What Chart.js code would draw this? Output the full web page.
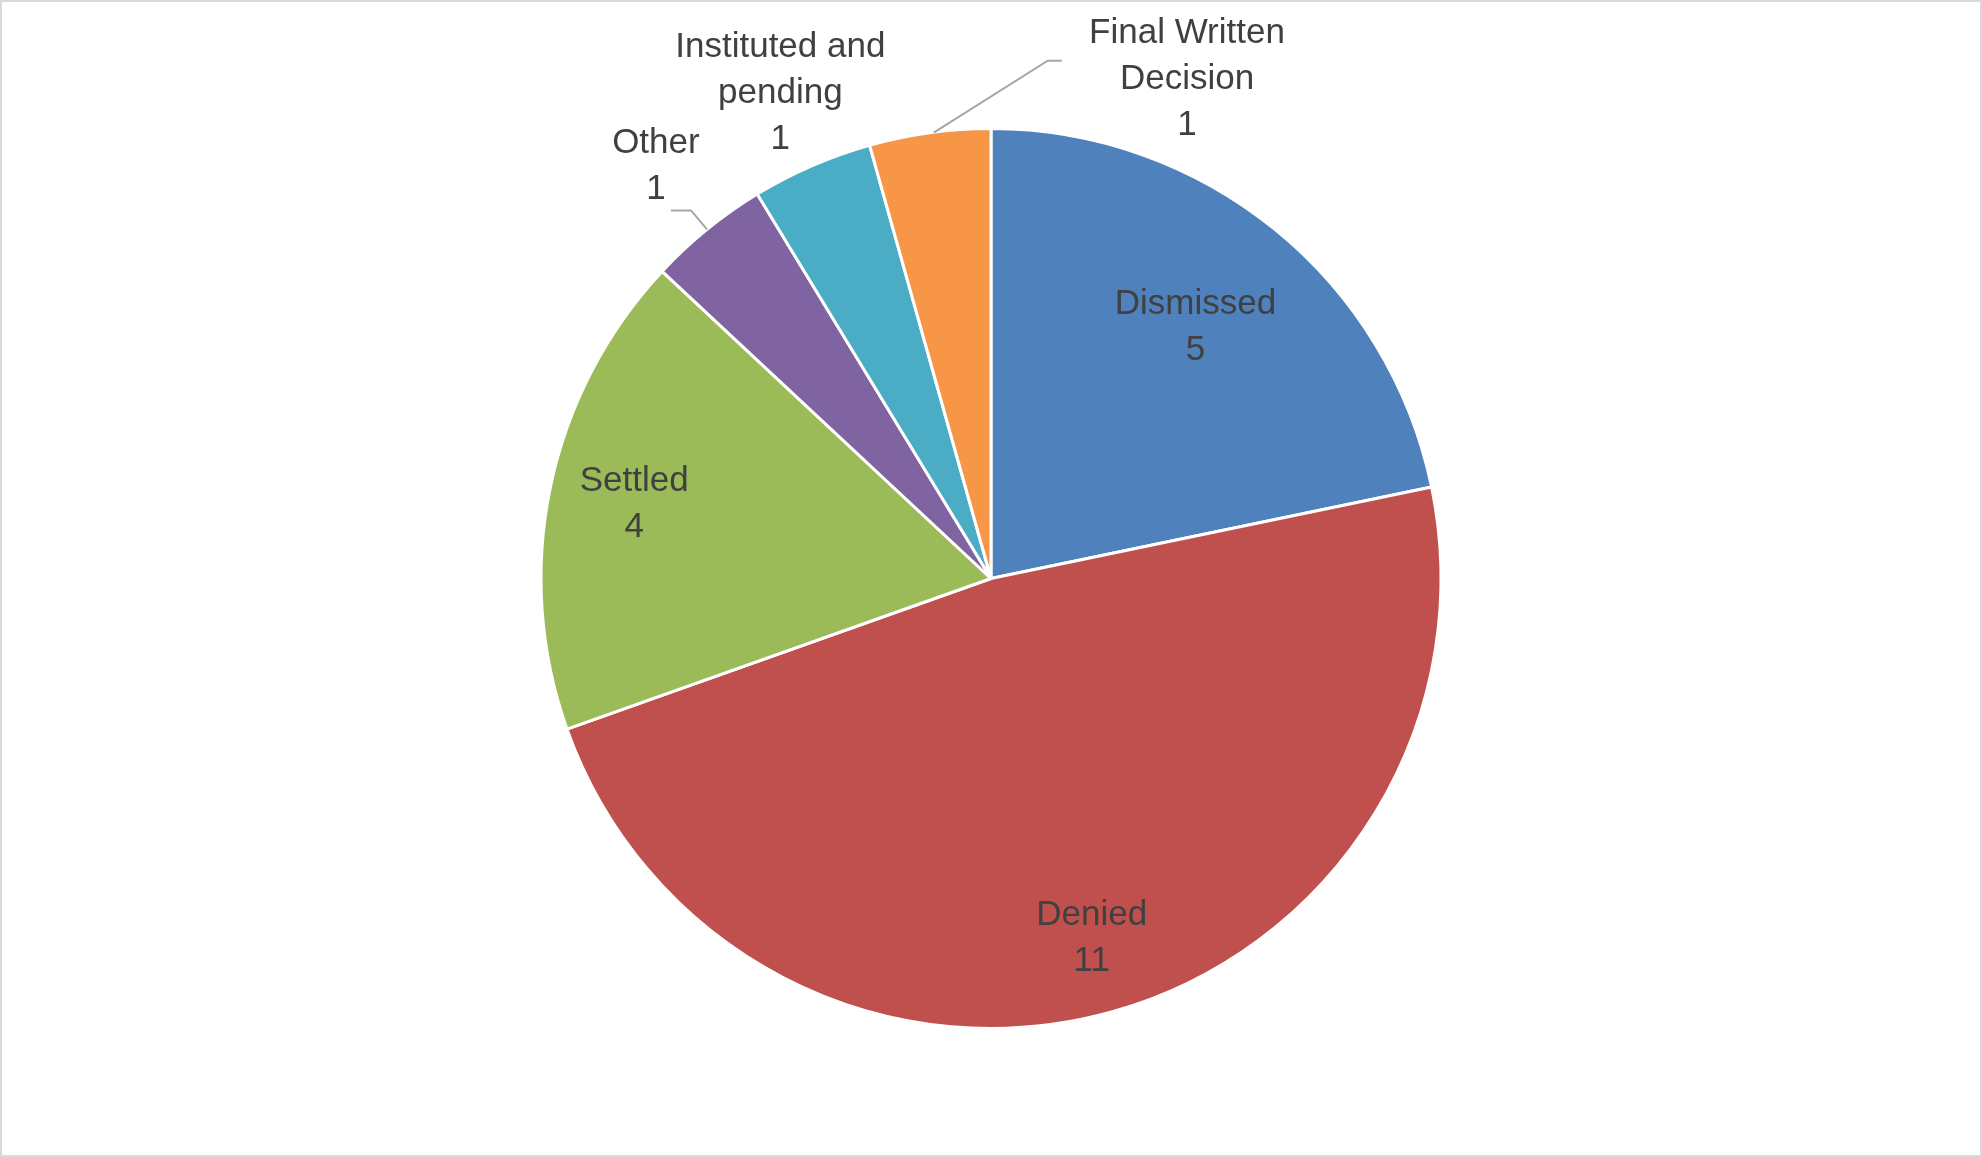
<!DOCTYPE html>
<html><head><meta charset="utf-8">
<script src="https://cdn.jsdelivr.net/npm/chart.js@4"></script>
<style>html,body{margin:0;padding:0;background:#fff;overflow:hidden}#w{width:1982px;height:1157px;position:relative}</style>
</head><body><div id="w"><canvas id="c"></canvas></div>
<script>
const categories = ["Dismissed","Denied","Settled","Other","Instituted and\npending","Final Written\nDecision"];
const values = [5,11,4,1,1,1];
const colors = ["#4F81BD","#C0504D","#9BBB59","#8064A2","#4BACC6","#F79646"];
// label placement style: radius factor, extra x offset, leader line
const labelStyle = [
  {r:0.72,dx:0},{r:0.83,dx:0},{r:0.81,dx:0},
  {r:1.18,dx:0,leader:true},{r:1.175,dx:0},{r:1.12,dx:400,leader:true}
];
const labelPlugin = {
  id:'labels',
  afterDraw(chart){
    const ctx=chart.ctx;
    ctx.save();
    ctx.strokeStyle='#d9d9d9';ctx.lineWidth=2;
    ctx.strokeRect(1,1,chart.width-2,chart.height-2);
    const meta=chart.getDatasetMeta(0);
    ctx.font='35px "Liberation Sans", Arial, sans-serif';
    ctx.fillStyle='#404040';ctx.textAlign='center';ctx.textBaseline='middle';
    meta.data.forEach((arc,i)=>{
      const p=arc.getProps(['x','y','startAngle','endAngle','outerRadius'],true);
      const a=(p.startAngle+p.endAngle)/2, st=labelStyle[i];
      let x=p.x+Math.cos(a)*p.outerRadius*st.r, y=p.y+Math.sin(a)*p.outerRadius*st.r;
      if(i===5){x=p.x+196;}
      const lines=(categories[i]+"\n"+values[i]).split("\n");
      const lh=46, y0=y-(lines.length-1)*lh/2;
      lines.forEach((t,k)=>ctx.fillText(t,x,y0+k*lh));
      if(st.leader){
        const ex=p.x+Math.cos(a)*p.outerRadius*1.0, ey=p.y+Math.sin(a)*p.outerRadius*1.0;
        ctx.strokeStyle='#a6a6a6';ctx.lineWidth=2;ctx.beginPath();
        if(i===3){ctx.moveTo(ex,ey);ctx.lineTo(ex-16,ey-19);ctx.lineTo(ex-36,ey-19);}
        else{ctx.moveTo(ex+4,ey);ctx.lineTo(ex+118,ey-72);ctx.lineTo(ex+132,ey-72);}
        ctx.stroke();
      }
    });
    ctx.restore();
  }
};
new Chart(document.getElementById('c'),{
  type:'pie',
  data:{labels:categories,datasets:[{data:values,backgroundColor:colors,borderColor:'#fff',borderWidth:3}]},
  options:{responsive:true,maintainAspectRatio:false,animation:false,
    layout:{padding:{top:127,bottom:127}},
    plugins:{legend:{display:false},tooltip:{enabled:false}}},
  plugins:[labelPlugin]
});
</script></body></html>
